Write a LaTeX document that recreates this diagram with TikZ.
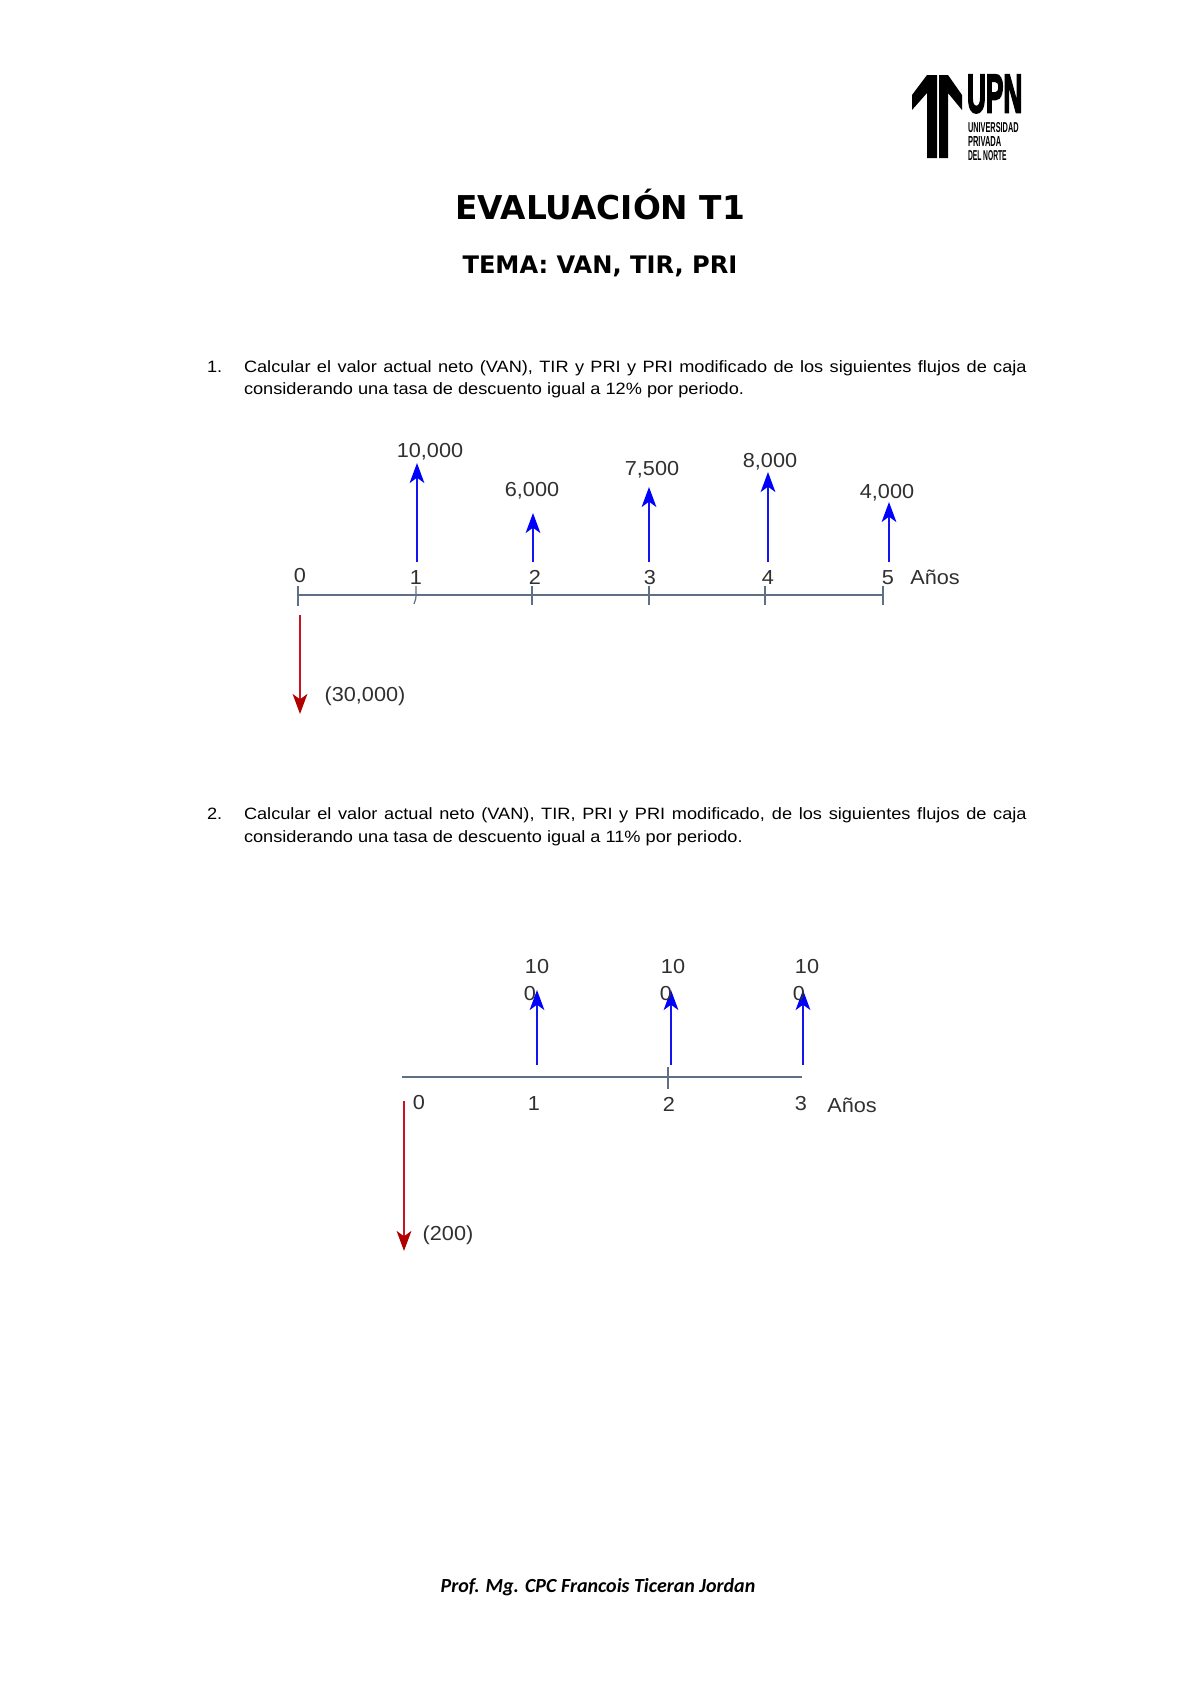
\documentclass[tikz,border=0pt]{standalone}
\usepackage{graphicx}
\usepackage{fontspec}
\setmainfont{Liberation Sans}
\newfontfamily\headfont{DejaVu Sans}
\newfontfamily\footfont{Carlito}
\newfontfamily\bodyfont[FakeStretch=1.108]{Liberation Sans}
\newfontfamily\numfont[FakeStretch=1.07]{Liberation Sans}
\newfontfamily\logofont[BoldFeatures={FakeBold=4}]{Liberation Sans}
\usetikzlibrary{arrows.meta}
\definecolor{axisc}{HTML}{5F6F85}
\definecolor{upc}{HTML}{1414F0}
\definecolor{downc}{HTML}{C8141E}
\definecolor{downh}{HTML}{B00000}
\definecolor{txt}{HTML}{303030}
\newcommand{\rz}[3]{\resizebox{#1}{#2}{#3}}
\tikzset{
  x=0.75pt,y=-0.75pt,
  every node/.style={inner sep=0pt,outer sep=0pt},
  num/.style={text=txt,anchor=center,font=\numfont\fontsize{15.2pt}{18pt}\selectfont},
  body/.style={text=black,anchor=base west,font=\bodyfont\fontsize{12.3pt}{16pt}\selectfont},
  axisline/.style={draw=axisc,line width=1.3pt},
  tick/.style={draw=axisc,line width=0.9pt},
  upflow/.style={draw=upc,line width=1.1pt,-{Stealth[length=15pt,width=11pt,inset=4pt,line width=1.6pt,color=blue]}},
  downflow/.style={draw=downc,line width=1pt,-{Stealth[length=15pt,width=11pt,inset=4pt,line width=1.6pt,color=downh]}},
  logo/.style={fill=black,draw=none},
  logotext/.style={anchor=north west,text=black},
}
\begin{document}
\begin{tikzpicture}
\useasboundingbox[fill=white] (0,0) rectangle (1200,1696);
% Logo
\fill[logo] (937,75) -- (927,75) -- (912,95) -- (912,110) -- (927,93) -- (927,158) -- (937,158) -- cycle;
\fill[logo] (939,75) -- (948,75) -- (962,95) -- (962,110) -- (948,93) -- (948,158) -- (939,158) -- cycle;
\node[logotext] (lupn) at (967,75) {\rz{41.5pt}{28pt}{\logofont\bfseries UPN}};
\node[logotext] (lu) at (968,122) {\rz{38pt}{7.5pt}{\bfseries UNIVERSIDAD}};
\node[logotext] (lp) at (968,136) {\rz{25pt}{7.5pt}{\bfseries PRIVADA}};
\node[logotext] (ld) at (968,150) {\rz{29pt}{7.5pt}{\bfseries DEL NORTE}};
% Titles
\node[anchor=center,font=\headfont\bfseries\fontsize{24.6pt}{29pt}\selectfont] (title) at (600,205) {EVALUACIÓN T1};
\node[anchor=center,font=\headfont\bfseries\fontsize{18.1pt}{22pt}\selectfont] (theme) at (600,266) {TEMA: VAN, TIR, PRI};
% Question 1
\node[body] (q1n) at (207,372) {1.};
\node[body] (q1a) at (244,372) {\makebox[587pt][s]{Calcular el valor actual neto (VAN), TIR y PRI y PRI modificado de los siguientes flujos de caja}};
\node[body] (q1b) at (244,394) {considerando una tasa de descuento igual a 12\% por periodo.};
% Diagram 1
\coordinate (a0) at (298,595); \coordinate (a5) at (883,595);
\draw[axisline] (a0) -- (a5);
\coordinate (t0a) at (298,586); \coordinate (t0b) at (298,606);
\coordinate (t1a) at (416,586); \coordinate (t1b) at (414,604);
\coordinate (t2a) at (532,586); \coordinate (t2b) at (532,605);
\coordinate (t3a) at (649,586); \coordinate (t3b) at (649,605);
\coordinate (t4a) at (765,586); \coordinate (t4b) at (765,605);
\coordinate (t5a) at (883,586); \coordinate (t5b) at (883,605);
\draw[tick] (t0a) -- (t0b);
\draw[tick] (t1a) .. controls (416,600) .. (t1b);
\draw[tick] (t2a) -- (t2b);
\draw[tick] (t3a) -- (t3b);
\draw[tick] (t4a) -- (t4b);
\draw[tick] (t5a) -- (t5b);
\coordinate (u1a) at (417,562); \coordinate (u1b) at (417,463);
\coordinate (u2a) at (533,562); \coordinate (u2b) at (533,513);
\coordinate (u3a) at (649,562); \coordinate (u3b) at (649,487);
\coordinate (u4a) at (768,562); \coordinate (u4b) at (768,472);
\coordinate (u5a) at (889,562); \coordinate (u5b) at (889,502);
\draw[upflow] (u1a) -- (u1b);
\draw[upflow] (u2a) -- (u2b);
\draw[upflow] (u3a) -- (u3b);
\draw[upflow] (u4a) -- (u4b);
\draw[upflow] (u5a) -- (u5b);
\coordinate (d1a) at (300,615); \coordinate (d1b) at (300,714);
\draw[downflow] (d1a) -- (d1b);
\node[num] (v1) at (430,452) {10,000};
\node[num] (v2) at (532,491) {6,000};
\node[num] (v3) at (652,470) {7,500};
\node[num] (v4) at (770,462) {8,000};
\node[num] (v5) at (887,493) {4,000};
\node[num] (n0) at (300,576) {0};
\node[num] (n1) at (416,578) {1};
\node[num] (n2) at (535,577) {2};
\node[num] (n3) at (650,578) {3};
\node[num] (n4) at (768,578) {4};
\node[num] (n5) at (888,578) {5};
\node[num] (yrs) at (935,577) {Años};
\node[num] (neg1) at (365,696) {(30,000)};
% Question 2
\node[body] (q2n) at (207,819) {2.};
\node[body] (q2a) at (244,819) {\makebox[587pt][s]{Calcular el valor actual neto (VAN), TIR, PRI y PRI modificado, de los siguientes flujos de caja}};
\node[body] (q2b) at (244,842) {considerando una tasa de descuento igual a 11\% por periodo.};
% Diagram 2
\coordinate (b0) at (402,1077); \coordinate (b3) at (802,1077);
\draw[axisline] (b0) -- (b3);
\coordinate (s2a) at (668,1067); \coordinate (s2b) at (668,1089);
\draw[tick] (s2a) -- (s2b);
\coordinate (w1a) at (537,1065); \coordinate (w1b) at (537,990);
\coordinate (w2a) at (671,1065); \coordinate (w2b) at (671,990);
\coordinate (w3a) at (803,1065); \coordinate (w3b) at (803,990);
\draw[upflow] (w1a) -- (w1b);
\draw[upflow] (w2a) -- (w2b);
\draw[upflow] (w3a) -- (w3b);
\coordinate (d2a) at (404,1101); \coordinate (d2b) at (404,1251);
\draw[downflow] (d2a) -- (d2b);
\node[num] (x1) at (537,967) {10};
\node[num] (x1b) at (530,994) {0};
\node[num] (x2) at (673,967) {10};
\node[num] (x2b) at (666,994) {0};
\node[num] (x3) at (807,967) {10};
\node[num] (x3b) at (799,994) {0};
\node[num] (m0) at (419,1103) {0};
\node[num] (m1) at (534,1104) {1};
\node[num] (m2) at (669,1104) {2};
\node[num] (m3) at (801,1104) {3};
\node[num] (yrs2) at (852,1105) {Años};
\node[num] (neg2) at (448,1235) {(200)};
% Footer
\node[anchor=center,font=\footfont\bfseries\itshape\fontsize{15pt}{18pt}\selectfont] (foot) at (598,1587) {Prof. Mg. CPC Francois Ticeran Jordan};
\end{tikzpicture}
\end{document}
